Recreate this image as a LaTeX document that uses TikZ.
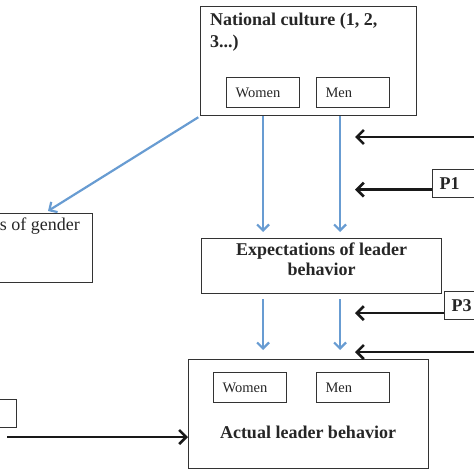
\documentclass[tikz,border=0pt]{standalone}
\usepackage{fontspec}
\setmainfont{Liberation Serif}
\usetikzlibrary{calc,arrows.meta}
\definecolor{arrowblue}{RGB}{104,156,210}
\tikzset{
    box/.style={draw=black!80,line width=1.2pt,inner sep=0pt},
    head/.style={font=\fontsize{18}{20}\selectfont\bfseries,text=black!85},
    plain/.style={font=\fontsize{18}{19}\selectfont,text=black!85,inner sep=0pt},
    sex/.style={box,font=\fontsize{14.5}{16}\selectfont,text=black!85,
        text width=55pt,inner xsep=9pt,minimum height=30pt,align=left},
    tag/.style={box,head,text width=48pt,inner xsep=7pt,minimum height=28pt,align=left},
    bluearrow/.style={draw=arrowblue,line width=2.2pt,-{Straight Barb[length=6pt,width=12pt]}},
    blackarrow/.style={draw=black!90,line width=2.6pt,-{Straight Barb[length=7pt,width=14pt]}}
}

\begin{document}
\begin{tikzpicture}[x=1pt,y=-1pt]
            \useasboundingbox (0,0) rectangle (474,474);
            % national culture
            \node[box,minimum width=216pt,minimum height=109pt,anchor=north west] (culture) at (200,6) {};
            \node[head,font=\fontsize{18}{22.5}\selectfont\bfseries,inner sep=0pt,anchor=north west,align=left] (culturetext) at (210,12.5) {National culture (1, 2,\\3...)};
            \node[sex,anchor=north west] (cw) at (226,77) {Women};
            \node[sex,anchor=north west] (cm) at (316,77) {Men};
            \coordinate (mx) at ([xshift=-13pt]cm.south);
            \coordinate (tipx) at (355,0);
            % gender box, cut by the left edge
            \node[box,minimum width=250pt,minimum height=69pt,anchor=north east] (gender) at (93,213) {};
            \node[plain,anchor=base east] (gendertext) at (80,230) {s of gender};
            \coordinate (gtip) at ($(gender.north east)+(-45,-2)$);
            % expectations
            \node[box,head,minimum width=240pt,minimum height=55pt,text depth=13pt,align=center,anchor=north west] (expect) at (201,238) {Expectations of leader\\behavior};
            % actual behaviour
            \node[box,minimum width=240pt,minimum height=109pt,anchor=north west] (actual) at (188,359) {};
            \node[sex,anchor=north west] (aw) at (213,372) {Women};
            \node[sex,anchor=north west] (am) at (316,372) {Men};
            \node[head,inner sep=0pt,anchor=base] (actualtext) at (308,438) {Actual leader behavior};
            % propositions on the right
            \node[tag,anchor=north west] (p1) at (432,169) {P1};
            \node[tag,anchor=north west] (p3) at (444,291) {P3};
            \node[box,minimum width=60pt,minimum height=28pt,anchor=north east] (left) at (17,399) {};
            \coordinate (r1) at (490,137);
            \coordinate (r4) at (490,352);
            \coordinate (l1) at (7,437);
            \coordinate (s1) at ([yshift=-6pt]p1.west);
            \coordinate (s3) at ([yshift=-7.5pt]p3.west);
            % blue arrows
            \draw[bluearrow,shorten <=2pt] (culture.south west) -- (gtip);
            \draw[bluearrow,shorten >=6pt] ([yshift=-8pt]cw.south) -- (cw.south |- expect.north);
            \draw[bluearrow,shorten >=6pt] ([yshift=-8pt]mx) -- (mx |- expect.north);
            \draw[bluearrow,shorten <=5pt,shorten >=9pt] (expect.south -| cw.south) -- (actual.north -| cw.south);
            \draw[bluearrow,shorten <=5pt,shorten >=9pt] (expect.south -| mx) -- (actual.north -| mx);
            % black arrows
            \draw[blackarrow] (r1) -- (r1 -| tipx);
            \draw[blackarrow] (s1) -- (s1 -| tipx);
            \draw[blackarrow] (s3) -- (s3 -| tipx);
            \draw[blackarrow] (r4) -- (r4 -| tipx);
            \draw[blackarrow] (l1) -- (l1 -| actual.west);
\end{tikzpicture}
\end{document}
